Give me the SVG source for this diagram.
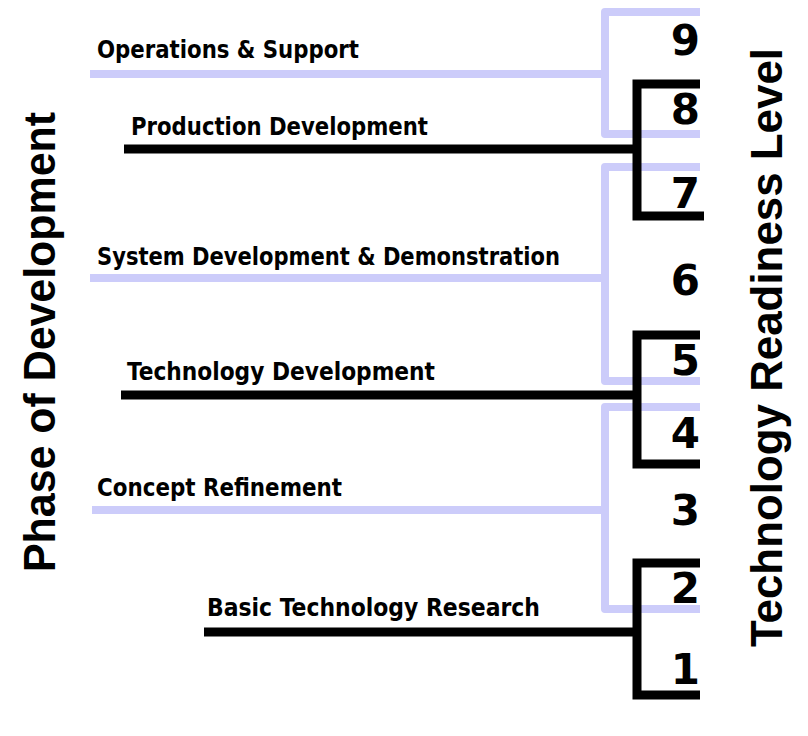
<svg xmlns="http://www.w3.org/2000/svg" width="808" height="736" viewBox="0 0 808 736">
<style>
.lav{fill:none;stroke:#ccccfa;stroke-width:8;stroke-linejoin:round}
.blk{fill:none;stroke:#000;stroke-width:9;stroke-linejoin:miter}
.lbl{font-family:"DejaVu Sans Condensed","DejaVu Sans","Liberation Sans",sans-serif;font-weight:bold;font-size:24px;fill:#000}
.num{font-family:"DejaVu Sans","Liberation Sans",sans-serif;font-weight:bold;font-size:42px;fill:#000;text-anchor:end}
.ttl{font-family:"Liberation Sans",Arial,sans-serif;font-weight:bold;font-size:45px;fill:#000}
</style>
<rect width="808" height="736" fill="#fff"/>
<g id="connectors">
<path class="lav" d="M700,12 H605 V134 H700 M90,74 H605"/>
<path class="lav" d="M700,167 H605 V381 H700 M90,278 H605"/>
<path class="lav" d="M700,407 H605 V609 H700 M92,510 H605"/>
<path class="blk" d="M700,84 H637 V216 H704 M124,149 H637"/>
<path class="blk" d="M700,335 H637 V464 H700 M121,395 H637"/>
<path class="blk" d="M700,563 H637 V695 H700 M204,632 H637"/>
</g>
<g id="phase-operations"><text class="lbl" x="97" y="58" textLength="262" lengthAdjust="spacingAndGlyphs">Operations &amp; Support</text></g>
<g id="phase-production"><text class="lbl" x="131" y="135" textLength="297" lengthAdjust="spacingAndGlyphs">Production Development</text></g>
<g id="phase-system"><text class="lbl" x="97" y="265" textLength="463" lengthAdjust="spacingAndGlyphs">System Development &amp; Demonstration</text></g>
<g id="phase-technology"><text class="lbl" x="127" y="380" textLength="308" lengthAdjust="spacingAndGlyphs">Technology Development</text></g>
<g id="phase-concept"><text class="lbl" x="97" y="496" textLength="245" lengthAdjust="spacingAndGlyphs">Concept Refinement</text></g>
<g id="phase-basic"><text class="lbl" x="207" y="616" textLength="333" lengthAdjust="spacingAndGlyphs">Basic Technology Research</text></g>
<g id="trl-levels">
<text class="num" x="700" y="55">9</text>
<text class="num" x="700" y="124">8</text>
<text class="num" x="700" y="208">7</text>
<text class="num" x="700" y="295">6</text>
<text class="num" x="700" y="375">5</text>
<text class="num" x="700" y="448">4</text>
<text class="num" x="700" y="525">3</text>
<text class="num" x="700" y="603">2</text>
<text class="num" x="700" y="684">1</text>
</g>
<g id="title-phase"><text class="ttl" transform="translate(55,572) rotate(-90)" x="0" y="0" textLength="460" lengthAdjust="spacingAndGlyphs">Phase of Development</text></g>
<g id="title-trl"><text class="ttl" transform="translate(782,647) rotate(-90)" x="0" y="0" textLength="599" lengthAdjust="spacingAndGlyphs">Technology Readiness Level</text></g>
</svg>
